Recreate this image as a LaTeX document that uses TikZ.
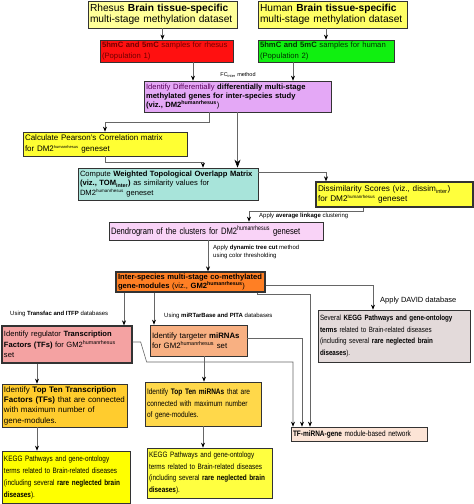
\documentclass[tikz,border=0pt]{standalone}
\usepackage{fontspec}
\setmainfont{Liberation Sans}
\newfontfamily\narrow[FakeStretch=0.82]{Liberation Sans}
\usepackage{tikz}
\usetikzlibrary{arrows.meta}

\newcommand{\fs}[2]{\fontsize{#1}{#2}\selectfont}
\newcommand{\humrh}{\textsuperscript{humanrhesus}}

\definecolor{rhesusyel}{HTML}{FFFF99}
\definecolor{humanyel}{HTML}{FFFF66}
\definecolor{redbox}{HTML}{FF1010}
\definecolor{greenbox}{HTML}{10F010}
\definecolor{purplebox}{HTML}{E4A8F6}
\definecolor{pearyel}{HTML}{FFFF33}
\definecolor{tealbox}{HTML}{A8E4DA}
\definecolor{dissyel}{HTML}{FFFF3C}
\definecolor{dendpink}{HTML}{F9D3F7}
\definecolor{modorange}{HTML}{FF7F24}
\definecolor{davidgray}{HTML}{E3DADA}
\definecolor{tfpink}{HTML}{F4A2A2}
\definecolor{mirpeach}{HTML}{F8B082}
\definecolor{toptfyel}{HTML}{FFCC2E}
\definecolor{topmiryel}{HTML}{FFD84A}
\definecolor{netpeach}{HTML}{FCE4D6}
\definecolor{kegga}{HTML}{FFFF00}
\definecolor{keggb}{HTML}{FFFF40}

\begin{document}
\begin{tikzpicture}[x=1pt, y=-1pt,
  box/.style={draw=black!80, line width=0.7pt, inner xsep=2pt, inner ysep=1pt, align=left},
  thickbox/.style={box, line width=1.3pt},
  arr/.style={draw=black!60, line width=0.6pt, -{Stealth[black, length=5pt, width=4pt]}},
  lbl/.style={inner sep=0pt, align=left, font=\fs{6}{7.5}}]
  \useasboundingbox (0,0) rectangle (474,504);

  % input datasets
  \node[box, fill=rhesusyel, font=\fs{10.2}{11.5}, text width=145pt, minimum height=27pt] (rhesus) at (162.5,14.5)
    {Rhesus \textbf{Brain tissue-specific}\\multi-stage methylation dataset};
  \node[box, fill=humanyel, font=\fs{10.2}{11.5}, text width=145pt, minimum height=27pt] (human) at (332.5,14.5)
    {Human \textbf{Brain tissue-specific}\\multi-stage methylation dataset};
  \node[box, fill=redbox, text=red!45!black, font=\fs{7.7}{10.5}, text width=129pt, minimum height=22pt] (red) at (166.5,51)
    {\textbf{5hmC and 5mC} samples for rhesus\\(Population 1)};
  \node[box, fill=greenbox, text=green!20!black, font=\fs{7.7}{10.5}, text width=132pt, minimum height=22pt] (green) at (326,51)
    {\textbf{5hmC and 5mC} samples for human\\(Population 2)};
  \node[lbl, font=\fs{5.5}{6.5}] (fclbl) at (238,75) {FC\textsubscript{inter} method};

  % inter-species genes
  \node[box, fill=purplebox, font=\fs{7.6}{9}, text width=183pt, minimum height=31pt] (dmg) at (237.5,96.5)
    {\textcolor{violet!70!black}{Identify Differentially} \textbf{differentially multi-stage}\\
     \textbf{methylated genes for inter-species study}\\
     \textbf{(viz., DM2\humrh})};
  \node[box, fill=pearyel, font=\fs{8}{10.5}, text width=160pt, minimum height=24pt] (pearson) at (105,144)
    {Calculate Pearson's Correlation matrix\\for DM2\textsuperscript{\fs{4}{4}humanrhesus} geneset};
  \node[box, fill=tealbox, font=\fs{7.6}{9.8}, text width=176pt, minimum height=32pt] (wtom) at (168,184)
    {Compute \textbf{Weighted Topological Overlapp Matrix}\\
     \textbf{(viz., TOM\textsubscript{inter})} as similarity values for\\
     DM2\textsuperscript{\fs{4.5}{4.5}humanrhesus} geneset};
  \node[thickbox, fill=dissyel, font=\fs{8.2}{10}, text width=153pt, minimum height=25pt] (dissim) at (394.5,194.5)
    {Dissimilarity Scores (viz., dissim\textsubscript{inter})\\for DM2\textsuperscript{\fs{4.5}{4.5}humanrhesus} geneset};
  \node[lbl] (avglbl) at (259,216) [anchor=west] {Apply \textbf{average linkage} clustering};
  \node[box, fill=dendpink, font=\narrow\fs{9.3}{10}, text width=210pt, minimum height=18pt] (dendro) at (216,231)
    {Dendrogram of the clusters for DM2\humrh\ geneset};
  \node[lbl] (cutlbl) at (213,245) [anchor=north west] {Apply \textbf{dynamic tree cut} method\\using color thresholding};

  % modules
  \node[thickbox, fill=modorange, font=\fs{7.6}{9.5}, text width=145pt, minimum height=20pt] (modules) at (190.5,282)
    {\textbf{Inter-species multi-stage co-methylated}\\
     \textbf{gene-modules} (viz., \textbf{GM2\humrh})};
  \node[lbl, font=\fs{7.5}{9}] (davidlbl) at (380,301) [anchor=west] {Apply DAVID database};
  \node[box, fill=davidgray, font=\narrow\fs{7.6}{11.7}, text width=148pt, minimum height=52pt] (david) at (394,336)
    {Several \textbf{KEGG Pathways and gene-ontology}\\
     \textbf{terms} related to Brain-related diseases\\
     (including several \textbf{rare neglected brain}\\
     \textbf{diseases}).};
  \node[lbl] (tflbl) at (10,314) [anchor=west] {Using \textbf{Transfac and ITFP} databases};
  \node[lbl] (mirlbl) at (164,316) [anchor=west] {Using \textbf{miRTarBase and PITA} databases};

  % regulators
  \node[thickbox, fill=tfpink, font=\fs{7.6}{10.5}, text width=126pt, minimum height=37pt] (tf) at (67,344.5)
    {Identify regulator \textbf{Transcription}\\
     \textbf{Factors (TFs)} for GM2\humrh\\
     set};
  \node[box, fill=mirpeach, font=\fs{7.8}{10}, text width=93pt, minimum height=31pt] (mir) at (198.5,340.5)
    {Identify targeter \textbf{miRNAs}\\for GM2\humrh\ set};
  \node[box, fill=toptfyel, font=\fs{8}{10.3}, text width=121pt, minimum height=43pt] (toptf) at (64.5,405.5)
    {Identify \textbf{Top Ten Transcription}\\
     \textbf{Factors (TFs)} that are connected\\
     with maximum number of\\
     gene-modules.};
  \node[box, fill=topmiryel, font=\narrow\fs{8}{11.2}, text width=112pt, minimum height=44pt] (topmir) at (203,404)
    {Identify \textbf{Top Ten miRNAs} that are\\
     connected with maximum number\\
     of gene-modules.};
  \node[box, fill=netpeach, font=\narrow\fs{7.9}{9}, text width=132pt, minimum height=14pt] (net) at (359,434)
    {\textbf{TF-miRNA-gene} module-based network};
  \node[box, fill=kegga, font=\narrow\fs{7.8}{12}, text width=124pt, minimum height=52pt] (kegga) at (66,477)
    {KEGG Pathways and gene-ontology\\
     terms related to Brain-related diseases\\
     (including several \textbf{rare neglected brain}\\
     \textbf{diseases}).};
  \node[box, fill=keggb, font=\narrow\fs{7.8}{11.5}, text width=121pt, minimum height=50pt] (keggb) at (209.5,473)
    {KEGG Pathways and gene-ontology\\
     terms related to Brain-related diseases\\
     (including several \textbf{rare neglected brain}\\
     \textbf{diseases}).};

  % connectors
  \draw[arr] (rhesus.south) -- (rhesus.south |- red.north);
  \draw[arr] (green.north |- human.south) -- (green.north);
  \draw[arr] ([xshift=26.5pt]red.south) -- ([xshift=26.5pt]red.south |- dmg.north);
  \draw[arr] ([xshift=-33pt]green.south) -- ([xshift=-33pt]green.south |- dmg.north);
  \draw[arr] ([xshift=-28.5pt]dmg.south) -- ++(0,10) -| (pearson.north);
  \draw[draw=black!60, line width=0.6pt, -{Stealth[black, length=8pt, width=6pt]}] (dmg.south) -- (dmg.south |- wtom.north);
  \draw[arr] (pearson.south) -- ++(0,6) -| ([xshift=35pt]wtom.north);
  \draw[arr] ([yshift=12pt]wtom.east) -| ([xshift=-68.5pt]dissim.north);
  \draw[arr] ([xshift=-31.5pt]dissim.south) -- ++(0,4) -| ([xshift=33pt]dendro.north);
  \draw[arr] ([xshift=-8pt]dendro.south) -- ([xshift=-8pt]dendro.south |- modules.north);
  \draw[arr] ([yshift=-3pt]modules.east) -| ([xshift=-21pt]david.north);
  \draw[arr] ([xshift=-66.5pt]modules.south) -- ([xshift=-66.5pt]modules.south |- tf.north);
  \draw[arr] ([xshift=-36.5pt]modules.south) -- ([xshift=-36.5pt]modules.south |- mir.north);
  \draw[arr] ([xshift=66.5pt]modules.south) -- ++(0,2) -| ([xshift=-49pt]net.north);
  \draw[arr] ([yshift=2.5pt]mir.east) -| ([xshift=-57pt]net.north);
  \draw[arr] ([yshift=2.5pt]tf.east) -- ++(8,0) -- ++(6,20) -| ([xshift=-66pt]net.north);
  \draw[arr] ([xshift=-30pt]tf.south) -- ([xshift=-30pt]tf.south |- toptf.north);
  \draw[arr] ([xshift=-27.5pt]toptf.south) -- ([xshift=-27.5pt]toptf.south |- kegga.north);
  \draw[arr] ([xshift=5.5pt]mir.south) -- ([xshift=5.5pt]mir.south |- topmir.north);
  \draw[arr] (topmir.south) -- (topmir.south |- keggb.north);
\end{tikzpicture}
\end{document}
